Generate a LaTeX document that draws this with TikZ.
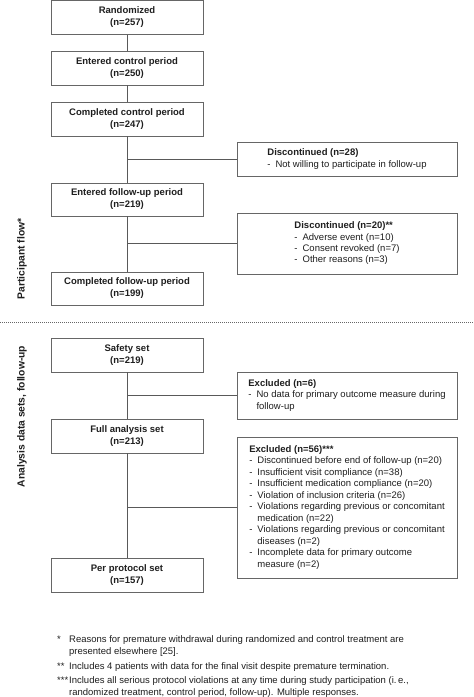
\documentclass[tikz,border=0pt]{standalone}
\usepackage{fontspec}
\setmainfont{Liberation Sans}
\usepackage{array}
\begin{document}
\begin{tikzpicture}[x=1pt,y=-1pt,
  every node/.style={text=black!88},
  mainbox/.style={draw=black!60, line width=0.8pt, minimum width=152pt, minimum height=34pt,
    inner sep=0pt, align=center, font=\fontsize{9.5}{12}\selectfont\bfseries},
  sidebox/.style={draw=black!60, line width=0.8pt, minimum width=220pt,
    inner sep=0pt, font=\fontsize{9.5}{11.45}\selectfont},
  conn/.style={draw=black!65, line width=0.8pt},
  sidelabel/.style={rotate=90, font=\fontsize{10.3}{12}\selectfont\bfseries}
]
\useasboundingbox (0,0) rectangle (474,697);
\fill[white] (0,0) rectangle (474,697);

% main column
\node[mainbox] (rand) at (127,17.5) {Randomized\\(n=257)};
\node[mainbox] (ecp) at (127,68) {Entered control period\\(n=250)};
\node[mainbox] (ccp) at (127,119) {Completed control period\\(n=247)};
\node[mainbox, minimum height=33pt] (efu) at (127,199.5) {Entered follow-up period\\(n=219)};
\node[mainbox, minimum height=33pt] (cfu) at (127,288.5) {Completed follow-up period\\(n=199)};
\node[mainbox] (ss) at (127,355) {Safety set\\(n=219)};
\node[mainbox] (fas) at (127,436) {Full analysis set\\(n=213)};
\node[mainbox] (pps) at (127,575) {Per protocol set\\(n=157)};

% side boxes
\node[sidebox, minimum height=34pt] (d28) at (347,159) {\begin{tabular}{@{}l@{\hspace{5pt}}l@{}}
\multicolumn{2}{@{}l@{}}{\bfseries Discontinued (n=28)}\\
- & Not willing to participate in follow-up
\end{tabular}};
\node[sidebox, minimum height=61pt] (d20) at (347,243.5) {\begin{tabular}{@{}l@{\hspace{5pt}}l@{}}
\multicolumn{2}{@{}l@{}}{\bfseries Discontinued (n=20)**}\\
- & Adverse event (n=10)\\
- & Consent revoked (n=7)\\
- & Other reasons (n=3)
\end{tabular}};
\node[sidebox, minimum height=47pt] (e6) at (347,395.5) {\begin{tabular}{@{}l@{\hspace{5pt}}l@{}}
\multicolumn{2}{@{}l@{}}{\bfseries Excluded (n=6)}\\
- & No data for primary outcome measure during\\
  & follow-up
\end{tabular}};
\node[sidebox, minimum height=141pt] (e56) at (347,507.5) {\begin{tabular}{@{}l@{\hspace{5pt}}l@{}}
\multicolumn{2}{@{}l@{}}{\bfseries Excluded (n=56)***}\\
- & Discontinued before end of follow-up (n=20)\\
- & Insufficient visit compliance (n=38)\\
- & Insufficient medication compliance (n=20)\\
- & Violation of inclusion criteria (n=26)\\
- & Violations regarding previous or concomitant\\
  & medication (n=22)\\
- & Violations regarding previous or concomitant\\
  & diseases (n=2)\\
- & Incomplete data for primary outcome\\
  & measure (n=2)
\end{tabular}};

% connectors
\draw[conn] (rand.south) -- (ecp.north);
\draw[conn] (ecp.south) -- (ccp.north);
\draw[conn] (ccp.south) -- (efu.north);
\draw[conn] (ccp.south |- d28.west) -- (d28.west);
\draw[conn] (efu.south) -- (cfu.north);
\draw[conn] (efu.south |- d20.west) -- (d20.west);
\draw[conn] (ss.south) -- (fas.north);
\draw[conn] (ss.south |- e6.west) -- (e6.west);
\draw[conn] (fas.south) -- (pps.north);
\draw[conn] (fas.south |- e56.west) -- (e56.west);

% separator
\coordinate (sepl) at (0,322);
\coordinate (sepr) at (474,322);
\draw[draw=black!60, line width=0.7pt, dash pattern=on 1.2pt off 0.8pt] (sepl) -- (sepr);

% side labels
\node[sidelabel] (pf) at (22,259) {Participant flow*};
\node[sidelabel] (ads) at (22,416.5) {Analysis data sets, follow-up};

% footnotes
\node[anchor=base west, inner sep=0pt, font=\fontsize{9.5}{12}\selectfont] (fn) at (57,642.5) {%
\begin{tabular}[t]{@{}p{12pt}@{}l@{}}
* & Reasons for premature withdrawal during randomized and control treatment are\\
  & presented elsewhere [25].\\[2.5pt]
** & Includes 4 patients with data for the final visit despite premature termination.\\[2.5pt]
*** & Includes all serious protocol violations at any time during study participation (i.\,e.,\\
  & randomized treatment, control period, follow-up). Multiple responses.
\end{tabular}};
\end{tikzpicture}
\end{document}
